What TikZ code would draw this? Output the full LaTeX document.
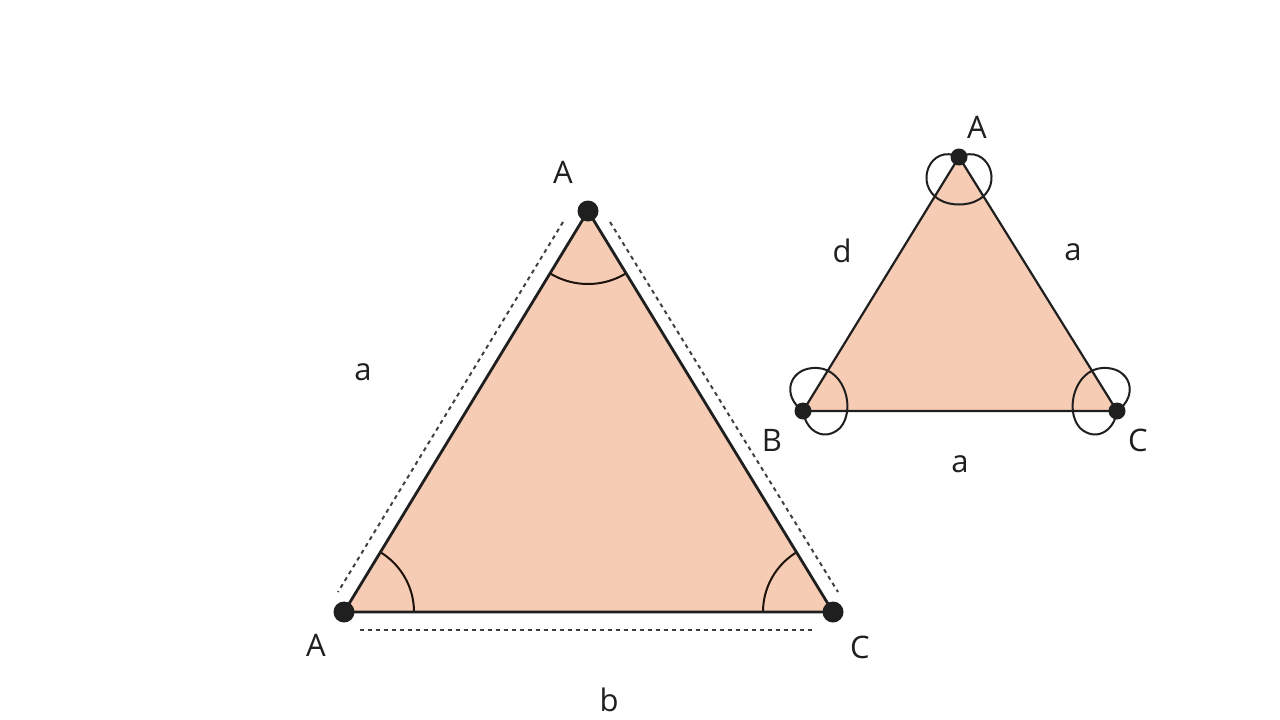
\documentclass[tikz,border=0pt]{standalone}
\usepackage{fontspec}
\setmainfont{Open Sans}
\begin{document}
\begin{tikzpicture}[x=1pt,y=-1pt,
  edge/.style={line width=2.8pt,draw=black!88},
  sedge/.style={line width=2.2pt,draw=black!88},
  dashline/.style={line width=2pt,draw=black!75,dash pattern=on 4pt off 4pt},
  angarc/.style={line width=2pt,draw=black!85!brown},
  loopline/.style={line width=2pt,draw=black!88},
  bigdot/.style={circle,fill=black!88,inner sep=0pt,minimum size=21pt},
  smalldot/.style={circle,fill=black!88,inner sep=0pt,minimum size=17pt},
  lbl/.style={font=\fontsize{31}{36}\selectfont,text=black!88,inner sep=0pt}]
\definecolor{peach}{RGB}{246,204,180}
\useasboundingbox (0,0) rectangle (1280,720);
\fill[white] (0,0) rectangle (1280,720);
% big triangle
\coordinate (TA) at (588,211);
\coordinate (TL) at (344,612);
\coordinate (TR) at (833,612);
\fill[peach] (TA) -- (TL) -- (TR) -- cycle;
\begin{scope}
  \clip (TA) -- (TL) -- (TR) -- cycle;
  \draw[angarc] (TA) circle (73);
  \draw[angarc] (TL) circle (70);
  \draw[angarc] (TR) circle (70);
\end{scope}
\draw[edge,line join=round] (TA) -- (TL) -- (TR) -- cycle;
% dashed guides
\coordinate (DL1) at (563,222);
\coordinate (DL2) at (338,592);
\coordinate (DR1) at (610,222);
\coordinate (DR2) at (838,592);
\coordinate (DB1) at (360,630);
\coordinate (DB2) at (815,630);
\draw[dashline] (DL1) -- (DL2);
\draw[dashline] (DR1) -- (DR2);
\draw[dashline] (DB1) -- (DB2);
\node[bigdot] (dA) at (TA) {};
\node[bigdot] (dL) at (TL) {};
\node[bigdot] (dR) at (TR) {};
% big labels
\node[lbl] (lA) at (563,172) {A};
\node[lbl] (la) at (363,372) {a};
\node[lbl] (lB) at (772,440) {B};
\node[lbl] (lA2) at (316,645) {A};
\node[lbl] (lC) at (860,647) {C};
\node[lbl] (lb) at (609,700) {b};
% small triangle
\coordinate (SA) at (959,157);
\coordinate (SB) at (803,411);
\coordinate (SC) at (1117,411);
\fill[peach] (SA) -- (SB) -- (SC) -- cycle;
\draw[sedge,line join=round] (SA) -- (SB) -- (SC) -- cycle;
% loops
\draw[loopline] (SA) .. controls (930,143) and (913,185) .. (940,200)
   .. controls (950,206) and (968,206) .. (978,200)
   .. controls (1005,185) and (988,143) .. (SA);
\draw[loopline] (SB) .. controls (780,395) and (790,366) .. (818,368)
   .. controls (845,370) and (856,410) .. (840,428)
   .. controls (825,442) and (806,432) .. (SB);
\draw[loopline] (SC) .. controls (1140,395) and (1130,366) .. (1102,368)
   .. controls (1075,370) and (1064,410) .. (1080,428)
   .. controls (1095,442) and (1114,432) .. (SC);
\node[smalldot] (sdA) at (SA) {};
\node[smalldot] (sdB) at (SB) {};
\node[smalldot] (sdC) at (SC) {};
\node[lbl] (slA) at (977,127) {A};
\node[lbl] (sld) at (842,251) {d};
\node[lbl] (sla) at (1073,252) {a};
\node[lbl] (slb) at (960,464) {a};
\node[lbl] (slC) at (1138,440) {C};
\end{tikzpicture}
\end{document}
